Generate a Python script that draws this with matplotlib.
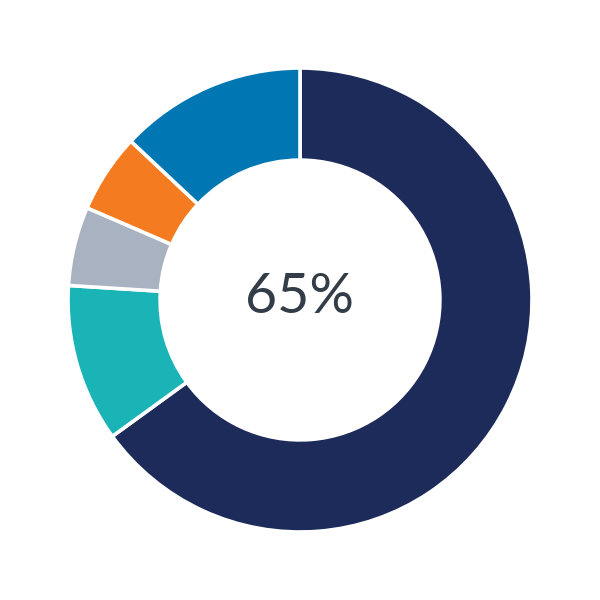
import matplotlib
matplotlib.use("Agg")
import matplotlib.pyplot as plt

labels = ["Navy", "Teal", "Gray", "Orange", "Blue"]
values = [65, 11, 5.5, 5.5, 13]
colors = ["#1c2b5a", "#1ab4b7", "#a8b2c1", "#f47b20", "#0076b3"]
center_label = "65%"

fig = plt.figure(figsize=(6, 6), dpi=100)
ax = fig.add_axes([0, 0, 1, 1])
ax.pie(values, colors=colors, startangle=90, counterclock=False,
       radius=1.0,
       wedgeprops=dict(width=0.397, edgecolor="white", linewidth=2.6))
lim = 300 / 232
ax.set_xlim(-lim, lim)
ax.set_ylim(-lim, lim)
ax.set_aspect("equal")
ax.axis("off")
ax.text(0, 0.01, center_label, ha="center", va="center", fontsize=40,
        family="Lato", color="#333d47")
fig.savefig("out.png", dpi=100, facecolor="white")
